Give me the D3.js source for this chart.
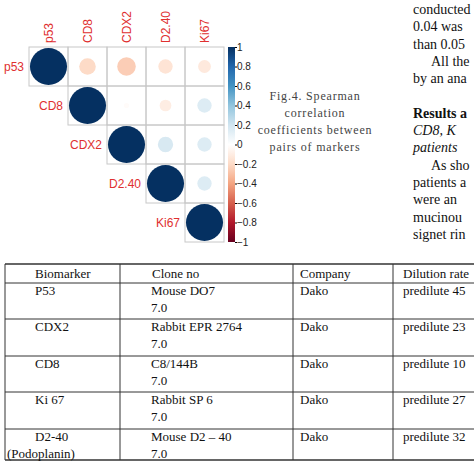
<!DOCTYPE html><html><head><meta charset="utf-8">
<script src="https://cdn.jsdelivr.net/npm/d3@7/dist/d3.min.js"></script>
<style>body{margin:0;background:#fff}</style></head><body>
<svg id="c" width="474" height="469"></svg>
<script>
const markers=["p53","CD8","CDX2","D2.40","Ki67"];
const corr=[[1,-0.2,-0.25,-0.15,-0.12],[-0.2,1,-0.02,-0.1,0.15],[-0.25,-0.02,1,0.17,0.15],[-0.15,-0.1,0.17,1,0.15],[-0.12,0.15,0.15,0.15,1]];
const ticks=[1,0.8,0.6,0.4,0.2,0,-0.2,-0.4,-0.6,-0.8,-1];
const tableHead=["Biomarker","Clone no","Company","Dilution rate"];
const tableRows=[["P53","Mouse DO7|7.0","Dako","predilute 45"],["CDX2","Rabbit EPR 2764|7.0","Dako","predilute 23"],["CD8","C8/144B|7.0","Dako","predilute 10"],["Ki 67","Rabbit SP 6|7.0","Dako","predilute 27"],["D2-40|(Podoplanin)","Mouse D2 – 40|7.0","Dako","predilute 32"]];
const caption=["Fig.4. Spearman","correlation","coefficients between","pairs of markers"];
const bodyText=["conducted","0.04 was","than 0.05","All the","by an ana","","Results a","CD8, K","patients","As sho","patients a","were an","mucinou","signet rin"];
const pal=["#67001F","#B2182B","#D6604D","#F4A582","#FDDBC7","#FFFFFF","#D1E5F0","#92C5DE","#4393C3","#2166AC","#053061"];
const color=d3.scaleLinear().domain(d3.range(11).map(i=>-1+i*0.2)).range(pal);
const svg=d3.select("#c");
const x=d3.scaleBand().domain(markers).range([29,224]);
const y=d3.scaleBand().domain(markers).range([47,242]);
const rad=d3.scaleSqrt().domain([0,1]).range([0,x.bandwidth()/2*0.95]);
const g=svg.append("g");
const cells=[];
markers.forEach((a,i)=>markers.forEach((b,j)=>{if(j>=i)cells.push({a,b,v:corr[i][j]});}));
g.selectAll("rect").data(cells).join("rect").attr("x",d=>x(d.b)).attr("y",d=>y(d.a)).attr("width",x.bandwidth()).attr("height",y.bandwidth()).attr("fill","none").attr("stroke","#c8c8c8").attr("stroke-width",1);
g.selectAll("circle").data(cells).join("circle").attr("cx",d=>x(d.b)+x.bandwidth()/2).attr("cy",d=>y(d.a)+y.bandwidth()/2).attr("r",d=>rad(Math.abs(d.v))).attr("fill",d=>color(d.v));
g.selectAll(".rl").data(markers).join("text").attr("x",d=>x(d)-5).attr("y",d=>y(d)+y.bandwidth()/2+4).attr("text-anchor","end").attr("font-family","Liberation Sans, Arial").attr("font-size",12).attr("fill","#e03030").text(d=>d);
g.selectAll(".cl").data(markers).join("text").attr("transform",d=>`translate(${x(d)+x.bandwidth()/2+4},43) rotate(-90)`).attr("font-family","Liberation Sans, Arial").attr("font-size",12).attr("fill","#e03030").text(d=>d);
const cy=d3.scaleLinear().domain([1,-1]).range([47,242]);
const defs=svg.append("defs");const lg=defs.append("linearGradient").attr("id","gr").attr("x1",0).attr("y1",0).attr("x2",0).attr("y2",1);
pal.slice().reverse().forEach((c,i)=>lg.append("stop").attr("offset",i/10).attr("stop-color",c));
svg.append("rect").attr("x",228).attr("y",47).attr("width",7).attr("height",195).attr("fill","url(#gr)");
const ax=svg.append("g").attr("transform","translate(235,0)").call(d3.axisRight(cy).tickValues(ticks).tickSize(2).tickFormat(d=>d3.format("")(d)));
ax.select(".domain").remove();ax.selectAll("text").attr("font-family","Liberation Sans, Arial").attr("font-size",10).attr("fill","#222").attr("x",2);
svg.append("g").selectAll("text").data(caption).join("text").attr("x",315).attr("y",(d,i)=>100+i*17).attr("text-anchor","middle").attr("font-family","Liberation Serif, Times New Roman").attr("font-size",12).attr("letter-spacing",0.8).attr("fill","#444").text(d=>d);
svg.append("g").selectAll("text").data(bodyText).join("text").attr("x",(d,i)=>[3,9].includes(i)?431:413).attr("y",(d,i)=>14+i*17.3).attr("font-family","Liberation Serif, Times New Roman").attr("font-size",14).attr("font-weight",(d,i)=>i==6?"bold":null).attr("font-style",(d,i)=>(i==7||i==8)?"italic":null).attr("fill","#111").text(d=>d);
const colX=[5,120,293,393];
const rowY=[264,283,319,356,392,429,460];
const t=svg.append("g").attr("font-family","Liberation Serif, Times New Roman").attr("font-size",13).attr("fill","#111");
rowY.forEach((yy,i)=>t.append("line").attr("x1",5).attr("x2",474).attr("y1",yy).attr("y2",yy).attr("stroke","#333").attr("stroke-width",(i==0||i==6)?1.5:1));
colX.forEach(xx=>t.append("line").attr("x1",xx).attr("x2",xx).attr("y1",264).attr("y2",460).attr("stroke","#333"));
tableHead.forEach((h,j)=>t.append("text").attr("x",[35,152,300,403][j]).attr("y",278).text(h));
tableRows.forEach((r,i)=>r.forEach((c,j)=>{c.split("|").forEach((ln,k)=>{
  const xx=j==0?(i==4&&k==1?7:35):[0,151,300,403][j];
  t.append("text").attr("x",xx).attr("y",rowY[i+1]+12+k*17).text(ln);});}));
</script></body></html>
